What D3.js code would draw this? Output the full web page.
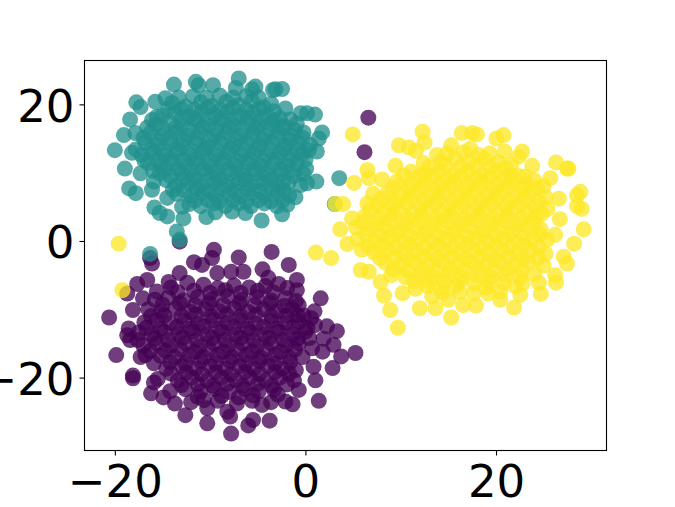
<!DOCTYPE html>
<html><head><meta charset="utf-8">
<script src="https://cdnjs.cloudflare.com/ajax/libs/d3/7.8.5/d3.min.js"></script>
<style>html,body{margin:0;background:#fff}svg{display:block}</style></head>
<body><svg id="c" width="675" height="507"></svg>
<script>
const xTicks=[-20,0,20];
const yTicks=[-20,0,20];
const xLimits=[-23.08,31.7];
const yLimits=[-30.6,26.35];
const classColors=["#440154","#21918c","#fde725"];
const purplePoints=[[-13.2,-0.1],[-16.3,-2.5],[-16.1,-3.3],[-9.6,-1.3],[-9.8,-2.5],[-11.7,-3.1],[-10.85,-3.5],[-7,-2.4],[-3.55,-1.6],[-1.75,-3.5],[-4.5,-4.15],[-3.9,-5.4],[-6.5,-4.5],[-9.25,-4.7],[-7.8,-4.5],[-13.2,-4.7],[-14.35,-6],[-16.6,-5.7],[-17.65,-6.3],[-18.7,-7.7],[-15.6,-7.4],[-17.05,-8.4],[-18.1,-10.1],[-20.6,-11.2],[-18.55,-12.8],[-18.7,-13.8],[-18.4,-14.5],[-19.85,-16.7],[-16.8,-16.7],[-18.1,-19.7],[-18.1,-20.1],[-15.9,-20.7],[-16.2,-22.3],[-14.9,-22.9],[-13.7,-23.8],[-12.6,-25.5],[-10.3,-26.7],[-10.3,-24.5],[-10.65,-23.3],[-8.2,-25],[-7.9,-25.7],[-7.8,-28.2],[-6,-27],[-5.5,-26.2],[-3.75,-26.3],[-4.55,-24],[-2.1,-23.5],[-1.35,-23.9],[1.4,-23.4],[1.05,-20.4],[2.85,-18.6],[3.75,-16.9],[5.25,-16.4],[2.95,-15.2],[3.3,-13.2],[2.25,-12.5],[1.9,-14.3],[1.8,-16.2],[0.85,-18.4],[-0.7,-21.8],[1.6,-8.4],[0.95,-10.3],[0.6,-11.3],[-0.9,-5.7],[-0.9,-7.2],[-0.7,-9.4],[0,-13.3],[-1.9,-6.9],[6.6,18.05],[6.2,13],
[-14.1,-6.8],[-12.4,-6.1],[-10.7,-6.4],[-9.2,-6.9],[-7.5,-6.5],[-5.9,-6.8],[-4.2,-6.6],[-2.8,-6.3],[-15.8,-8.6],[-14.4,-8.3],[-12.8,-8.7],[-11.3,-8.2],[-9.8,-8.5],[-8.2,-8.1],[-6.7,-8.6],[-5.1,-8.2],[-3.6,-8.7],[-2.1,-8.4],[-16.5,-10],[-15.1,-10.3],[-13.6,-9.9],[-12,-10.4],[-10.5,-10],[-9,-10.3],[-7.5,-9.9],[-6,-10.4],[-4.4,-10],[-2.9,-10.3],[-1.4,-10],[-0.2,-10.9],[-16.9,-11.9],[-15.6,-11.6],[-14.2,-12],[-12.7,-11.7],[-11.2,-12.1],[-9.7,-11.6],[-8.2,-12],[-6.7,-11.7],[-5.2,-12.1],[-3.6,-11.7],[-2.1,-12],[-0.7,-11.8],[1,-12.3],[-17.5,-13.4],[-16.1,-13.7],[-14.8,-13.3],[-13.3,-13.6],[-11.8,-13.3],[-10.3,-13.7],[-8.8,-13.3],[-7.3,-13.7],[-5.8,-13.4],[-4.3,-13.7],[-2.8,-13.3],[-1.3,-13.7],[0.4,-14.2],[-17,-15.3],[-15.6,-15],[-14.1,-15.3],[-12.6,-15],[-11.1,-15.4],[-9.6,-15],[-8.1,-15.3],[-6.6,-15],[-5.1,-15.4],[-3.6,-15],[-2.1,-15.3],[-0.7,-15],[0.7,-15.7],[-17.3,-17],[-15.2,-16.8],[-13.7,-17],[-12.2,-16.7],[-10.7,-17],[-9.2,-16.7],[-7.7,-17],[-6.2,-16.7],[-4.7,-17.1],[-3.2,-16.7],[-1.7,-17],[-0.3,-17],[-14.6,-18.7],[-13,-18.3],[-11.5,-18.7],[-10,-18.3],[-8.4,-18.7],[-6.9,-18.3],[-5.4,-18.7],[-3.9,-18.3],[-2.4,-18.7],[-1,-18.9],[-15.5,-20.2],[-13.4,-20.4],[-11.9,-20],[-10.3,-20.4],[-8.8,-20],[-7.3,-20.4],[-5.8,-20],[-4.2,-20.4],[-2.7,-20],[-1.2,-20.4],[-14.2,-22],[-12.6,-21.7],[-11,-22],[-9.5,-21.7],[-8,-22.1],[-6.4,-21.7],[-4.9,-22],[-3.3,-21.8],[-12,-23.6],[-9.2,-23.4],[-7.2,-23.8],[-5.6,-23.4],[-3.6,-23.6],
[-13.4,-7.5],[-11.7,-7.3],[-10,-7.6],[-8.4,-7.2],[-6.8,-7.6],[-5,-7.3],[-3.4,-7.5],[-15,-9.3],[-13.2,-9.1],[-11.6,-9.4],[-10.1,-9.1],[-8.6,-9.4],[-6.9,-9.1],[-5.3,-9.4],[-3.7,-9.1],[-2.2,-9.5],[-1,-8.8],[-16.2,-11],[-14.8,-10.9],[-13,-11],[-11.5,-10.8],[-9.9,-11],[-8.3,-10.8],[-6.8,-11],[-5.2,-10.8],[-3.6,-11],[-2,-10.9],[-0.8,-10.9],[-16.7,-12.7],[-15.2,-12.8],[-13.5,-12.6],[-12,-12.8],[-10.6,-12.5],[-9,-12.8],[-7.5,-12.6],[-6,-12.8],[-4.4,-12.6],[-2.9,-12.8],[-1.3,-12.6],[0.2,-12.7],[-17.6,-14.5],[-15.8,-14.3],[-14.4,-14.5],[-12.9,-14.2],[-11.4,-14.5],[-9.8,-14.2],[-8.4,-14.5],[-6.8,-14.2],[-5.4,-14.5],[-3.8,-14.2],[-2.3,-14.5],[-0.8,-14.3],[-16.3,-16.1],[-14.7,-16.1],[-13.1,-15.9],[-11.6,-16.2],[-10.1,-15.9],[-8.6,-16.2],[-7.1,-15.9],[-5.6,-16.2],[-4.1,-15.9],[-2.6,-16.2],[-1.1,-15.9],[-15.9,-17.9],[-14.2,-17.7],[-12.6,-17.9],[-11,-17.6],[-9.4,-17.9],[-7.9,-17.6],[-6.3,-17.9],[-4.8,-17.6],[-3.2,-17.9],[-1.6,-17.7],[-14.1,-19.4],[-12.5,-19.3],[-10.9,-19.5],[-9.4,-19.2],[-7.8,-19.5],[-6.3,-19.2],[-4.8,-19.5],[-3.2,-19.2],[-1.7,-19.4],[-13,-21.1],[-11.3,-21],[-9.7,-21.2],[-8.2,-20.9],[-6.6,-21.2],[-5,-20.9],[-3.5,-21.2],[-1.9,-21],[-11.3,-22.8],[-8.8,-22.7],[-7,-22.9],[-5.5,-22.6],[-2.9,-22.5]];
const tealPoints=[[-13.8,22.9],[-11.5,23.3],[-11.2,22.8],[-9.7,22.8],[-7,23.8],[-7.3,22.4],[-5.25,22.6],[-5.6,22.2],[-3.4,22.1],[-2.45,22.25],[-3.15,22.2],[-2.1,19.4],[-3.6,20.1],[-0.5,18.7],[0.17,18.7],[1,18.5],[1.75,15.9],[1.4,15],[1.2,13.1],[0.35,13.3],[0,11.9],[0.07,10.6],[1.15,8.7],[0.17,8.45],[3.55,9.2],[3.07,5.4],[-1.05,6.4],[-2.45,3.9],[-4.6,3],[-6.3,4.1],[-7.7,4.3],[-9.45,4.2],[-10.4,3.5],[-12.8,3.3],[-13.5,1.4],[-13.2,0.2],[-14.5,3.6],[-15.3,4.1],[-15.85,4.9],[-17.8,7],[-18.5,7.7],[-18.95,10.6],[-20,13.3],[-18.2,12.9],[-19.05,15.5],[-17.85,15.8],[-18.4,17.8],[-17.75,20.3],[-17.3,19.6],[-15.75,20.4],[-14.7,20.9],[-16.1,17.7],[-17.3,9.9],[-15.9,8.7],[-16.1,7.5],[-14.5,6.3],[-12.95,5],[-16.3,-1.9],
[-14,20.2],[-12.6,19.7],[-11,20.3],[-9.8,19.8],[-8.3,20.4],[-7,19.9],[-5.6,20.5],[-4.4,19.6],[-15,18.4],[-13.7,18.8],[-12.2,18.3],[-10.9,18.9],[-9.5,18.4],[-8.2,18.9],[-6.8,18.3],[-5.5,18.8],[-4,18.3],[-2.7,18],[-1.6,17.8],[-15.7,17],[-14.3,17.4],[-13,16.9],[-11.5,17.4],[-10.2,16.9],[-8.9,17.4],[-7.5,16.9],[-6.1,17.4],[-4.9,16.9],[-3.5,17.3],[-2.2,16.8],[-0.9,17.2],[-16.3,15.8],[-15,15.4],[-13.6,15.9],[-12.3,15.4],[-11,15.9],[-9.5,15.4],[-8.2,15.9],[-6.8,15.4],[-5.5,15.9],[-4.2,15.4],[-2.8,15.9],[-1.5,15.4],[-0.2,15.9],[-16.8,14.4],[-15.5,14],[-14.2,14.4],[-12.9,14],[-11.5,14.4],[-10.3,13.9],[-8.9,14.4],[-7.5,14],[-6.2,14.4],[-4.8,14],[-3.5,14.4],[-2.1,14],[-0.8,14.4],[0.5,14.1],[-17.2,12.6],[-16,12.9],[-14.8,12.5],[-13.5,12.9],[-12.1,12.5],[-10.8,12.9],[-9.4,12.5],[-8.1,12.9],[-6.7,12.5],[-5.4,12.9],[-4.1,12.5],[-2.7,12.9],[-1.4,12.5],[-0.3,12.8],[-16.5,11.4],[-15.2,11],[-14,11.4],[-12.6,11],[-11.4,11.4],[-10,11],[-8.7,11.4],[-7.3,11],[-6,11.4],[-4.7,11],[-3.3,11.4],[-2,11],[-0.9,11.3],[-15.3,9.9],[-14.2,9.5],[-13,9.9],[-11.7,9.5],[-10.4,9.9],[-9.2,9.5],[-7.8,9.9],[-6.5,9.5],[-5.2,9.9],[-3.9,9.5],[-2.5,9.9],[-1.2,9.5],[-0.2,9.8],[-13.6,8.1],[-12.3,8.5],[-11,8.1],[-9.6,8.5],[-8.3,8.1],[-7,8.5],[-5.8,8.1],[-4.4,8.5],[-3,8.1],[-1.8,8.5],[-0.5,8.2],[-13.5,6.9],[-12,6.6],[-10.8,7],[-9.4,6.6],[-8,7],[-6.8,6.6],[-5.5,7],[-4.2,6.6],[-2.9,7],[-1.7,6.7],[-12.2,5.4],[-11,5.1],[-9.6,5.5],[-8.4,5.1],[-7,5.5],[-5.7,5.1],[-4.3,5.5],[-3,5.1],[-1.9,5.3],
[-13.3,21],[-11.8,21.2],[-10.4,21],[-9,21.3],[-7.6,21],[-6.2,21.2],[-4.9,21],[-14.4,19.4],[-13,19.3],[-11.6,19.2],[-10.2,19.5],[-8.9,19.2],[-7.6,19.5],[-6.2,19.2],[-4.8,19.3],[-3.3,19],[-15.6,18.2],[-13,18],[-11.6,17.9],[-10.2,18],[-8.8,17.9],[-7.4,18],[-6,18],[-4.6,17.8],[-3.2,17.6],[-16.6,16.6],[-15,16.5],[-13.6,16.6],[-12.2,16.3],[-10.8,16.6],[-9.4,16.3],[-8,16.6],[-6.6,16.3],[-5.2,16.6],[-3.8,16.3],[-2.4,16.6],[-1.1,16.2],[-17,15.1],[-15.6,14.8],[-14.2,15.1],[-12.8,14.8],[-11.4,15.1],[-10,14.7],[-8.6,15.1],[-7.2,14.8],[-5.8,15.1],[-4.4,14.8],[-3,15.1],[-1.6,14.8],[-0.3,15.1],[-17.8,13.4],[-16.2,13.4],[-14.8,13.2],[-13.4,13.5],[-12,13.2],[-10.6,13.5],[-9.2,13.2],[-7.8,13.5],[-6.4,13.2],[-5,13.5],[-3.6,13.2],[-2.2,13.5],[-0.8,13.2],[-16.9,11.8],[-15.4,11.9],[-14.1,11.9],[-12.8,11.8],[-11.4,12],[-10,11.8],[-8.6,12],[-7.2,11.7],[-5.8,12],[-4.4,11.7],[-3,12],[-1.6,11.8],[-16,10.3],[-14.8,10.4],[-13.4,10.5],[-12,10.3],[-10.7,10.5],[-9.3,10.2],[-8,10.5],[-6.6,10.2],[-5.3,10.5],[-3.9,10.2],[-2.6,10.5],[-1.2,10.3],[-14.6,8.9],[-13,8.9],[-11.7,9],[-10.3,8.8],[-9,9],[-7.6,8.8],[-6.3,9],[-4.9,8.8],[-3.6,9],[-2.3,8.8],[-13.9,7.5],[-12.7,7.4],[-11.4,7.6],[-10.1,7.3],[-8.8,7.6],[-7.4,7.3],[-6.1,7.6],[-4.8,7.3],[-3.5,7.6],[-2.3,7.4],[-11.6,5.9],[-10.2,6],[-9,5.8],[-7.6,6],[-6.2,5.8],[-4.9,6],[-3.6,5.8],[-2.4,5.9]];
const yellowPoints=[[-19.6,-0.4],[-19.2,-7.2],[4.97,15.6],[3.15,5.4],[3.95,5.4],[12.3,16],[12.5,14.4],[9.8,14],[10.85,13.7],[11.6,13.2],[15.3,14],[16.4,15.8],[17.5,15.8],[18,15.6],[17.3,13.5],[20.05,15],[20.8,15.5],[19.35,12.8],[20.9,13.1],[22.75,13.1],[22.4,12.35],[23.8,11],[26.3,11.5],[27.45,10.6],[27.6,10.6],[25.7,9.2],[24,8.9],[25,8],[28.85,7.2],[28.5,6.7],[28.5,5.1],[29,4.7],[26.6,6.2],[26.7,3.2],[29.2,1.7],[28.2,-0.4],[26.2,0.9],[25.35,0.15],[27.1,-2.3],[27.45,-3.3],[26.2,-5],[26.3,-6.1],[24.7,-7.75],[24.5,-6.1],[22.55,-7.9],[21.9,-9.75],[20.45,-8.6],[20.45,-7.4],[17.9,-9.45],[17.65,-7.65],[16.55,-9.4],[15.3,-11.2],[13.65,-9.85],[12,-9.85],[13.3,-8.1],[15,-8.6],[11.55,-7],[10.2,-7.65],[8.25,-8],[8.9,-10.1],[9.7,-12.7],[7.9,-6],[5.8,-4.25],[6.65,-4.5],[1.1,-1.7],[2.7,-2.5],[4.4,-0.45],[3.65,1.7],[5.9,-1.3],[4.9,3.3],[6.5,5.5],[5.1,8.5],[6.5,10.4],[6.65,9.2],[9.45,11],[8.05,9],[11.1,10.15],[12.4,11.4],[13.8,12.6],[7.1,6.9],
[14.2,11.6],[15.7,12],[17.2,11.5],[18.7,12],[20.2,11.5],[21.6,11.2],[12.5,9.9],[14,10.2],[15.5,9.7],[17,10.2],[18.5,9.7],[20,10.2],[21.5,9.7],[23,9.4],[9.6,8.7],[11.1,8.3],[12.6,8.7],[14.1,8.3],[15.6,8.7],[17.1,8.3],[18.6,8.7],[20.1,8.3],[21.6,8.7],[23.1,8.2],[8.6,7],[10.1,6.7],[11.6,7.1],[13.1,6.7],[14.6,7.1],[16.1,6.7],[17.6,7.1],[19.1,6.7],[20.6,7.1],[22.1,6.7],[23.6,7.1],[25.2,6.4],[7.6,5.3],[9.1,5.1],[10.6,5.5],[12.1,5],[13.6,5.4],[15.1,5],[16.6,5.4],[18.1,5],[19.6,5.4],[21.1,5],[22.6,5.4],[24.1,5],[25.4,4.7],[6.2,3.6],[7.7,3.4],[9.2,3.8],[10.7,3.3],[12.2,3.7],[13.7,3.3],[15.2,3.7],[16.7,3.3],[18.2,3.7],[19.7,3.3],[21.2,3.7],[22.7,3.3],[24.2,3.6],[5.3,2],[6.8,1.7],[8.3,2.1],[9.8,1.6],[11.3,2],[12.8,1.6],[14.3,2],[15.8,1.6],[17.3,2],[18.8,1.6],[20.3,2],[21.8,1.6],[23.3,2],[24.7,1.7],[5.5,0.3],[7.3,0],[8.8,0.4],[10.3,-0.1],[11.8,0.3],[13.3,-0.1],[14.8,0.3],[16.3,-0.1],[17.8,0.3],[19.3,-0.1],[20.8,0.3],[22.3,-0.1],[23.8,0.3],[7.2,-1.7],[8.7,-1.3],[10.2,-1.8],[11.7,-1.4],[13.2,-1.8],[14.7,-1.4],[16.2,-1.8],[17.7,-1.4],[19.2,-1.8],[20.7,-1.4],[22.2,-1.8],[23.7,-1.4],[25.2,-1.9],[8.4,-3.2],[9.9,-3.5],[11.4,-3.1],[12.9,-3.5],[14.4,-3.1],[15.9,-3.5],[17.4,-3.1],[18.9,-3.5],[20.4,-3.1],[21.9,-3.5],[23.4,-3.1],[25,-3.6],[9,-5],[10.5,-5.3],[12,-5],[13.5,-5.3],[15,-5],[16.5,-5.3],[18,-5],[19.5,-5.3],[21,-5],[22.5,-5.3],[12.8,-6.6],[14.3,-6.9],[15.8,-6.6],[18.9,-6.8],[22,-6.6],
[14.9,12.8],[16.6,13],[18.2,12.6],[13,10.8],[14.7,11],[16.3,10.9],[17.9,11],[19.4,10.8],[21,10.7],[10.3,9.6],[11.9,9.4],[13.4,9.5],[14.9,9.2],[16.4,9.5],[17.9,9.2],[19.4,9.5],[20.9,9.2],[22.4,9.5],[9.2,7.8],[10.8,7.7],[12.3,7.9],[13.8,7.6],[15.3,7.9],[16.8,7.6],[18.3,7.9],[19.8,7.6],[21.3,7.9],[22.8,7.6],[24.3,7.8],[8,6.2],[9.5,5.9],[11,6.3],[12.5,5.9],[14,6.2],[15.5,5.9],[17,6.2],[18.5,5.9],[20,6.2],[21.5,5.9],[23,6.2],[24.5,5.8],[6.8,4.5],[8.3,4.3],[9.8,4.6],[11.3,4.2],[12.8,4.6],[14.3,4.2],[15.8,4.6],[17.3,4.2],[18.8,4.6],[20.3,4.2],[21.8,4.6],[23.3,4.2],[24.8,4],[6,2.7],[7.5,2.5],[9,2.8],[10.5,2.5],[12,2.8],[13.5,2.5],[15,2.8],[16.5,2.5],[18,2.8],[19.5,2.5],[21,2.8],[22.5,2.5],[24,2.7],[6.4,0.9],[8,0.8],[9.5,1],[11,0.7],[12.5,1],[14,0.7],[15.5,1],[17,0.7],[18.5,1],[20,0.7],[21.5,1],[23,0.7],[24.6,0.9],[6.6,-0.8],[8.1,-0.6],[9.5,-0.9],[11,-0.6],[12.5,-0.9],[14,-0.6],[15.5,-0.9],[17,-0.6],[18.5,-0.9],[20,-0.6],[21.5,-0.9],[23,-0.6],[24.5,-0.9],[7.8,-2.5],[9.3,-2.4],[10.8,-2.6],[12.3,-2.3],[13.8,-2.6],[15.3,-2.3],[16.8,-2.6],[18.3,-2.3],[19.8,-2.6],[21.3,-2.3],[22.8,-2.6],[24.4,-2.5],[9.2,-4.2],[10.7,-4.3],[12.2,-4.1],[13.7,-4.3],[15.2,-4.1],[16.7,-4.3],[18.2,-4.1],[19.7,-4.3],[21.2,-4.1],[22.7,-4.3],[24,-4.8],[11.4,-5.9],[13,-5.9],[14.6,-6],[16.2,-5.9],[17.7,-6.2],[19.2,-6],[20.8,-6.1],[22.8,-6.2],[14.4,-7.6],[16.2,-7.5],[19.2,-7.7]];
const pointRadius=8,pointOpacity=.76;
const svg=d3.select("#c");
const x=d3.scaleLinear().domain(xLimits).range([85.5,607.5]);
const y=d3.scaleLinear().domain(yLimits).range([450,61]);
[purplePoints,tealPoints,yellowPoints].forEach((pts,i)=>{
  svg.append("g").selectAll("circle").data(pts).join("circle")
    .attr("cx",d=>x(d[0])).attr("cy",d=>y(d[1])).attr("r",pointRadius)
    .attr("fill",classColors[i]).attr("fill-opacity",pointOpacity);
});
svg.append("rect").attr("x",84.5).attr("y",60.5).attr("width",522).attr("height",390)
  .attr("fill","none").attr("stroke","#000").attr("stroke-width",1.1);
const fmt=d=>d<0?"\u2212"+Math.abs(d):""+d;
const style=g=>{g.select(".domain").remove();
  g.selectAll("text").attr("font-family","DejaVu Sans").attr("font-size",45).attr("fill","#000");
  g.selectAll("line").attr("stroke","#000").attr("stroke-width",1.1);};
svg.append("g").attr("transform","translate(0,450.5)")
  .call(d3.axisBottom(x).tickValues(xTicks).tickFormat(fmt).tickSize(5).tickPadding(10)).call(style);
svg.append("g").attr("transform","translate(84.5,0)")
  .call(d3.axisLeft(y).tickValues(yTicks).tickFormat(fmt).tickSize(5).tickPadding(5)).call(style)
  .selectAll("text").attr("dy","0.37em");
</script></body></html>
